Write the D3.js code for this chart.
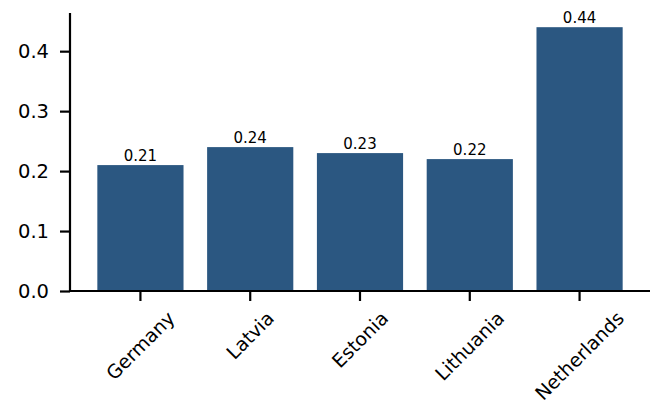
<!DOCTYPE html>
<html>
<head>
<meta charset="utf-8">
<script src="https://cdn.jsdelivr.net/npm/d3@7"></script>
<style>
  html, body { margin: 0; padding: 0; background: #fff; }
  svg { display: block; font-family: "DejaVu Sans", sans-serif; }
</style>
</head>
<body>
<svg id="chart" width="655" height="405"></svg>
<script>
const categories = ["Germany", "Latvia", "Estonia", "Lithuania", "Netherlands"];
const values = [0.21, 0.24, 0.23, 0.22, 0.44];
const valueLabels = ["0.21", "0.24", "0.23", "0.22", "0.44"];
const yTicks = [0.0, 0.1, 0.2, 0.3, 0.4];
const yTickLabels = ["0.0", "0.1", "0.2", "0.3", "0.4"];

(function () {
const svg = d3.select("#chart");
const mLeft = 70, mRight = 650, mTop = 14, mBottom = 291;
const barColor = "#2b5781";
const tickFs = 19.5, catFs = 19, valFs = 15;

const x = d3.scaleBand().domain(categories).range([mLeft, mRight])
  .paddingInner(0.215).paddingOuter(0.249);
const y = d3.scaleLinear().domain([0, 0.462]).range([mBottom, mTop]);

// bars
svg.append("g").selectAll("rect").data(values).join("rect")
  .attr("x", (d, i) => x(categories[i]))
  .attr("y", d => y(d))
  .attr("width", x.bandwidth())
  .attr("height", d => y(0) - y(d))
  .attr("fill", barColor);

// value labels
svg.append("g").selectAll("text").data(values).join("text")
  .attr("x", (d, i) => x(categories[i]) + x.bandwidth() / 2)
  .attr("y", d => y(d) - 4)
  .attr("text-anchor", "middle")
  .attr("font-size", valFs)
  .attr("fill", "#000")
  .text((d, i) => valueLabels[i]);

// y axis
const yAxis = d3.axisLeft(y).tickValues(yTicks)
  .tickFormat((d, i) => yTickLabels[i]).tickSize(10).tickPadding(11).tickSizeOuter(0);
const gy = svg.append("g").attr("transform", `translate(${mLeft},0)`).call(yAxis);
gy.select(".domain").attr("stroke", "#000").attr("stroke-width", 2.2)
  .attr("d", `M0,${mTop - 1}V${mBottom}`);
gy.selectAll(".tick line").attr("stroke", "#000").attr("stroke-width", 2.2);
gy.selectAll(".tick text").attr("font-size", tickFs).attr("fill", "#000")
  .attr("font-family", "DejaVu Sans");

// x axis
const xAxis = d3.axisBottom(x).tickSize(10).tickSizeOuter(0).tickFormat("");
const gx = svg.append("g").attr("transform", `translate(0,${mBottom})`).call(xAxis);
gx.select(".domain").attr("stroke", "#000").attr("stroke-width", 2.2)
  .attr("d", `M${mLeft - 1},0H${mRight}`);
gx.selectAll(".tick line").attr("stroke", "#000").attr("stroke-width", 2.2);

// rotated category labels (bbox centred on tick, like matplotlib ha=center)
const labelTop = mBottom + 10 + 6;
const lg = svg.append("g");
categories.forEach(c => {
  const g = lg.append("g");
  const t = g.append("text")
    .attr("text-anchor", "middle")
    .attr("font-size", catFs)
    .attr("fill", "#000")
    .attr("y", 0.346 * catFs)
    .text(c);
  const w = t.node().getComputedTextLength();
  const h = 1.164 * catFs;
  const cx = x(c) + x.bandwidth() / 2;
  const cy = labelTop + (w + h) / (2 * Math.SQRT2);
  g.attr("transform", `translate(${cx},${cy}) rotate(-45)`);
});
})();
</script>
</body>
</html>
